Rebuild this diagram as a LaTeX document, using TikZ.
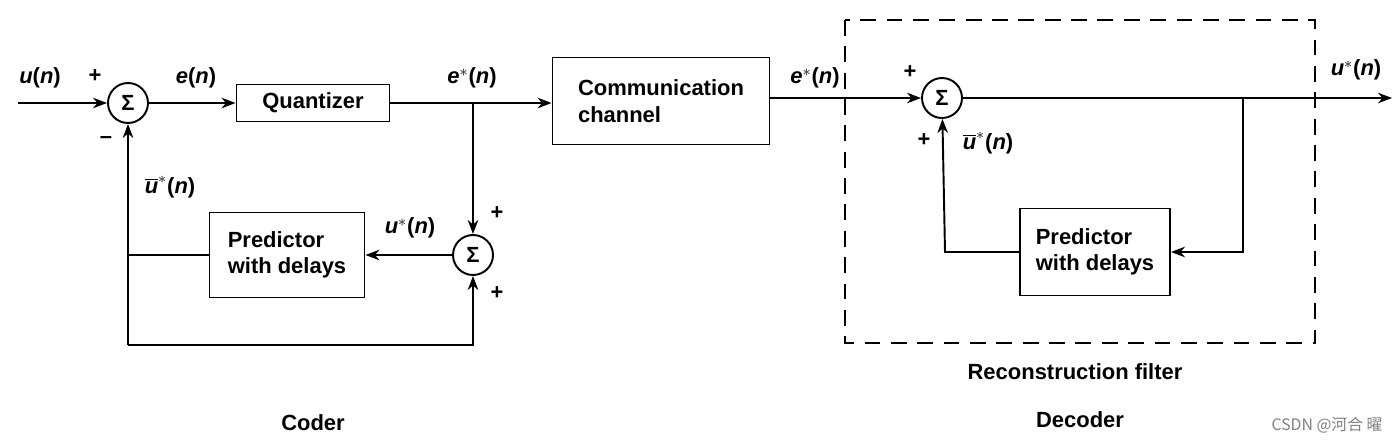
\documentclass[tikz,border=0pt]{standalone}
\usepackage{fontspec}
\setmainfont{Liberation Sans}
\newfontfamily\cjk{Noto Sans CJK SC}
\usetikzlibrary{arrows.meta}
\newcommand{\var}[1]{\textit{#1}}
\begin{document}
\begin{tikzpicture}[x=0.02cm,y=-0.02cm,
  font=\fontsize{12.5}{15}\selectfont\bfseries,
  line width=1.1pt, >={Stealth[length=8pt,width=6pt]},
  sum/.style={circle,draw,minimum size=0.8cm,inner sep=0pt},
  blk/.style={draw,align=left,inner sep=4pt},
  lbl/.style={inner sep=1pt}]
\useasboundingbox (0,0) rectangle (1398,444);
% coder
\coordinate (in) at (18,103);
\node[sum] (s1) at (128,103) {Σ};
\node[blk,minimum width=3.06cm,minimum height=0.74cm] (q) at (313,103) {Quantizer};
\node[blk,minimum width=4.34cm,minimum height=1.74cm] (ch) at (661,101) {Communication\\channel};
\node[sum] (s2) at (473,255) {Σ};
\node[blk,minimum width=3.1cm,minimum height=1.7cm] (p1) at (287,255) {Predictor\\with delays};
\coordinate (b1) at (473,103);
\coordinate (c1) at (128,255);
\coordinate (c2) at (128,345);
\coordinate (c3) at (473,345);
\draw[->] (in) -- (s1);
\draw[->] (s1) -- (q);
\draw[->] (q) -- (ch.west |- q);
\draw[->] (b1) -- (s2);
\draw[->] (s2) -- (p1);
\draw (p1.west) -- (c1);
\draw[->] (c2) -- (s1);
\draw[->] (c2) -- (c3) -- (s2);
\node[lbl] at (40,78) {\var{u}(\var{n})};
\node[lbl] at (95,76) {+};
\node[lbl] at (106,140) {\textendash};
\node[lbl] at (196,78) {\var{e}(\var{n})};
\node[lbl] at (472,78) {\var{e}$^{*}$(\var{n})};
\node[lbl] at (170,187) {$\overline{\mbox{\var{u}}}^{*}$(\var{n})};
\node[lbl] at (410,228) {\var{u}$^{*}$(\var{n})};
\node[lbl] at (497,213) {+};
\node[lbl] at (497,293) {+};
% decoder
\node[sum] (s3) at (942,98) {Σ};
\node[blk,minimum width=3cm,minimum height=1.74cm] (p2) at (1095,252) {Predictor\\with delays};
\coordinate (out) at (1392,98);
\coordinate (b2) at (1243,98);
\coordinate (c4) at (1243,252);
\coordinate (c5) at (945,252);
\draw[->] (ch.east |- s3) -- (s3);
\draw[->] (s3) -- (out);
\draw[->] (b2) -- (c4) -- (p2.east);
\draw[->] (p2.west) -- (c5) -- (s3);
\draw[dash pattern=on 9pt off 6pt] (845,20) rectangle (1315,343);
\node[lbl] at (815,78) {\var{e}$^{*}$(\var{n})};
\node[lbl] at (910,72) {+};
\node[lbl] at (924,140) {+};
\node[lbl] at (988,143) {$\overline{\mbox{\var{u}}}^{*}$(\var{n})};
\node[lbl] at (1356,70) {\var{u}$^{*}$(\var{n})};
\node[lbl] at (1075,372) {Reconstruction filter};
\node[lbl] at (1080,420) {Decoder};
\node[lbl] at (313,423) {Coder};
\node[lbl,text=gray,font=\cjk\fontsize{9}{10}\selectfont] at (1327,425) {CSDN @河合 曜};
\end{tikzpicture}
\end{document}
